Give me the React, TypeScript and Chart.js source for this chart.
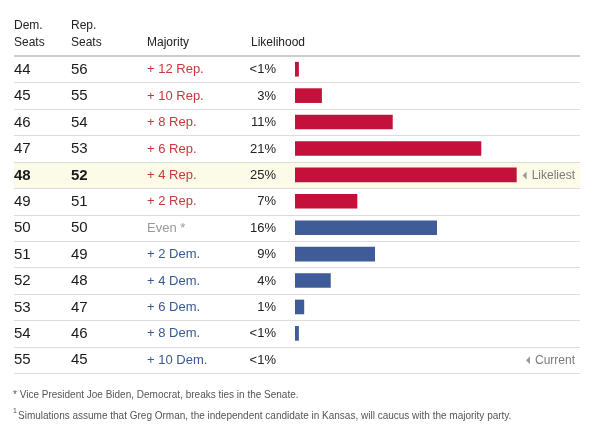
import React, { useEffect, useRef } from "react";
import { Chart, registerables } from "chart.js";

Chart.register(...registerables);

// Senate outcome table: seats, majority and likelihood of each outcome
const demSeats = [44, 45, 46, 47, 48, 49, 50, 51, 52, 53, 54, 55];
const repSeats = [56, 55, 54, 53, 52, 51, 50, 49, 48, 47, 46, 45];
const majorityLabels = [
  "+ 12 Rep.", "+ 10 Rep.", "+ 8 Rep.", "+ 6 Rep.", "+ 4 Rep.", "+ 2 Rep.",
  "Even *", "+ 2 Dem.", "+ 4 Dem.", "+ 6 Dem.", "+ 8 Dem.", "+ 10 Dem.",
];
const majorityParty = ["rep", "rep", "rep", "rep", "rep", "rep", "even", "dem", "dem", "dem", "dem", "dem"];
const likelihoodLabels = ["<1%", "3%", "11%", "21%", "25%", "7%", "16%", "9%", "4%", "1%", "<1%", "<1%"];
// percent chance; the last outcome is too small to show a bar
const likelihood = [0.4, 3, 11, 21, 25, 7, 16, 9, 4, 1, 0.4, null];
const likeliestRow = 4;
const currentRow = 11;
const footnotes = [
  "* Vice President Joe Biden, Democrat, breaks ties in the Senate.",
  "Simulations assume that Greg Orman, the independent candidate in Kansas, will caucus with the majority party.",
];

const RED_BAR = "#c5103b";
const BLUE_BAR = "#3f5c99";
const RED_TEXT = "#c83838";
const BLUE_TEXT = "#365a92";
const GRAY_TEXT = "#999999";
const FONT = '"Liberation Sans", Arial, Helvetica, sans-serif';

const COL_DEM = 14;
const COL_REP = 71;
const COL_MAJ = 147;
const COL_LIKE_HEAD = 251;
const COL_LIKE_VAL = 276;
const RULE_LEFT = 14;
const RULE_RIGHT = 580;

const tablePlugin = {
  id: "seatTable",
  beforeDatasetsDraw(chart: any) {
    const { ctx, chartArea } = chart;
    const yScale = chart.scales.y;
    const n = demSeats.length;
    const rowH = (chartArea.bottom - chartArea.top) / n;
    ctx.save();

    // highlighted row
    const hTop = chartArea.top + likeliestRow * rowH;
    ctx.fillStyle = "#fcfbe8";
    ctx.fillRect(RULE_LEFT, hTop, RULE_RIGHT - RULE_LEFT, rowH);

    // row rules
    for (let i = 1; i <= n; i++) {
      const y = Math.round(chartArea.top + i * rowH) + 0.5;
      ctx.strokeStyle = "#dcdcdc";
      ctx.lineWidth = 1;
      ctx.beginPath();
      ctx.moveTo(RULE_LEFT, y);
      ctx.lineTo(RULE_RIGHT, y);
      ctx.stroke();
    }
    // header rule
    ctx.strokeStyle = "#bdbdbd";
    ctx.lineWidth = 1.5;
    ctx.beginPath();
    ctx.moveTo(RULE_LEFT, chartArea.top);
    ctx.lineTo(RULE_RIGHT, chartArea.top);
    ctx.stroke();

    // header labels
    ctx.fillStyle = "#222";
    ctx.font = `12px ${FONT}`;
    ctx.textAlign = "left";
    ctx.textBaseline = "alphabetic";
    ctx.fillText("Dem.", COL_DEM, 29);
    ctx.fillText("Seats", COL_DEM, 46);
    ctx.fillText("Rep.", COL_REP, 29);
    ctx.fillText("Seats", COL_REP, 46);
    ctx.fillText("Majority", COL_MAJ, 46);
    ctx.fillText("Likelihood", COL_LIKE_HEAD, 46);

    // rows
    ctx.textBaseline = "middle";
    for (let i = 0; i < n; i++) {
      const y = yScale.getPixelForValue(i) + 0.5;
      const bold = i === likeliestRow ? "bold " : "";
      ctx.fillStyle = "#1a1a1a";
      ctx.font = `${bold}15px ${FONT}`;
      ctx.textAlign = "left";
      ctx.fillText(String(demSeats[i]), COL_DEM, y);
      ctx.fillText(String(repSeats[i]), COL_REP, y);

      const p = majorityParty[i];
      ctx.fillStyle = p === "rep" ? RED_TEXT : p === "dem" ? BLUE_TEXT : GRAY_TEXT;
      ctx.font = `13px ${FONT}`;
      ctx.fillText(majorityLabels[i], COL_MAJ, y);

      ctx.fillStyle = "#222";
      ctx.textAlign = "right";
      ctx.fillText(likelihoodLabels[i], COL_LIKE_VAL, y);
    }
    ctx.restore();
  },
  afterDraw(chart: any) {
    const { ctx } = chart;
    const yScale = chart.scales.y;
    ctx.save();

    // markers on the right
    const marker = (row: number, text: string) => {
      const y = yScale.getPixelForValue(row) + 0.5;
      ctx.font = `12px ${FONT}`;
      ctx.textAlign = "right";
      ctx.textBaseline = "middle";
      ctx.fillStyle = "#7a7a7a";
      const right = 575;
      ctx.fillText(text, right, y);
      const w = ctx.measureText(text).width;
      const tx = right - w - 5;
      ctx.fillStyle = "#9a9a9a";
      ctx.beginPath();
      ctx.moveTo(tx, y - 4);
      ctx.lineTo(tx, y + 4);
      ctx.lineTo(tx - 4, y);
      ctx.closePath();
      ctx.fill();
    };
    marker(likeliestRow, "Likeliest");
    marker(currentRow, "Current");

    // footnotes
    ctx.textAlign = "left";
    ctx.textBaseline = "alphabetic";
    ctx.fillStyle = "#555";
    ctx.font = `10px ${FONT}`;
    ctx.fillText(footnotes[0], 13, 398);
    ctx.font = `7px ${FONT}`;
    ctx.fillText("1", 13, 413);
    ctx.font = `10px ${FONT}`;
    ctx.fillText(footnotes[1], 18, 419);
    ctx.restore();
  },
};

export default function App() {
  const ref = useRef<HTMLCanvasElement | null>(null);

  useEffect(() => {
    document.body.style.margin = "0";
    const canvas = ref.current;
    if (!canvas) return;
    const chart = new Chart(canvas, {
      type: "bar",
      data: {
        labels: demSeats.map(String),
        datasets: [
          {
            data: likelihood,
            backgroundColor: majorityParty.map((p) => (p === "rep" ? RED_BAR : BLUE_BAR)),
            borderWidth: 0,
            barThickness: 14,
            categoryPercentage: 1,
          },
        ],
      },
      options: {
        indexAxis: "y",
        responsive: false,
        animation: false,
        maintainAspectRatio: false,
        layout: { padding: { left: 295, right: 23, top: 56, bottom: 69 } },
        plugins: { legend: { display: false }, tooltip: { enabled: false } },
        scales: {
          x: { display: false, min: 0, max: 32.3 },
          y: { display: false },
        },
      },
      plugins: [tablePlugin],
    });
    return () => chart.destroy();
  }, []);

  return (
    <div style={{ width: 604, height: 442, background: "#fff" }}>
      <canvas ref={ref} width={604} height={442} style={{ display: "block" }} />
    </div>
  );
}
